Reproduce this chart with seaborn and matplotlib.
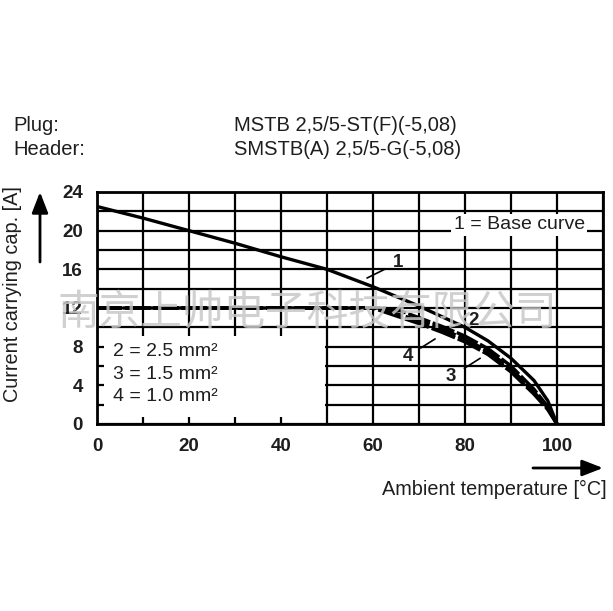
import matplotlib
matplotlib.use("Agg")
import matplotlib.pyplot as plt
import seaborn as sns
import numpy as np
import pandas as pd
from matplotlib.patches import Rectangle, FancyArrowPatch

# ---------------- data ----------------
temp_base = [0, 10, 20, 30, 40, 50, 60, 70, 80, 85, 90, 95, 98, 100]
cap_base = [22.5, 21.3, 20.0, 18.7, 17.3, 16.0, 14.2, 12.2, 10.0, 8.6, 6.8, 4.5, 2.4, 0]

temp_c2 = [0, 62, 66, 70, 75, 80, 85, 90, 95, 98, 100]
cap_c2 = [12, 12, 11.7, 11.0, 10.1, 9.1, 7.8, 6.0, 3.6, 1.8, 0]

temp_c3 = [0, 60, 65, 70, 75, 80, 85, 90, 95, 98, 100]
cap_c3 = [12, 12, 11.2, 10.4, 9.5, 8.5, 7.2, 5.4, 3.1, 1.5, 0]

temp_c4 = [0, 61, 65, 70, 75, 80, 85, 90, 95, 98, 100]
cap_c4 = [12, 12, 11.4, 10.7, 9.8, 8.8, 7.5, 5.7, 3.3, 1.6, 0]

x_ticks = [0, 10, 20, 30, 40, 50, 60, 70, 80, 90, 100, 110]
x_labels = ["0", "", "20", "", "40", "", "60", "", "80", "", "100", ""]
y_ticks = [0, 2, 4, 6, 8, 10, 12, 14, 16, 18, 20, 22, 24]
y_labels = ["0", "", "4", "", "8", "", "12", "", "16", "", "20", "", "24"]

legend_lines = ["2 = 2.5 mm²", "3 = 1.5 mm²", "4 = 1.0 mm²"]
header_left = ["Plug:", "Header:"]
header_right = ["MSTB 2,5/5-ST(F)(-5,08)", "SMSTB(A) 2,5/5-G(-5,08)"]
watermark = "南京上帅电子科技有限公司"

# ---------------- style ----------------
sns.set_theme(style="white")
plt.rcParams["font.family"] = ["Liberation Sans", "Noto Sans CJK SC", "DejaVu Sans"]

W, H = 613, 611
TXT = "#1e1e1e"
fig = plt.figure(figsize=(W / 100, H / 100), dpi=100)
ax = fig.add_axes([97 / W, 1 - 424 / H, 506 / W, 232 / H])

def long_df(t, c, name):
    return pd.DataFrame({"temp": t, "cap": c, "curve": name})

df_base = long_df(temp_base, cap_base, "1")
df2 = long_df(temp_c2, cap_c2, "2")
df3 = long_df(temp_c3, cap_c3, "3")
df4 = long_df(temp_c4, cap_c4, "4")

sns.lineplot(data=df4, x="temp", y="cap", ax=ax, color="black", lw=2.6,
             sort=False, zorder=4)
sns.lineplot(data=df3, x="temp", y="cap", ax=ax, color="black", lw=2.6,
             sort=False, zorder=4)
sns.lineplot(data=df2, x="temp", y="cap", ax=ax, color="black", lw=2.4,
             sort=False, zorder=4)
for ln in ax.lines:
    ln.set_dashes((7, 0.8))
    ln.set_solid_capstyle("butt")
sns.lineplot(data=df_base, x="temp", y="cap", ax=ax, color="black", lw=2.4,
             sort=False, zorder=5)

ax.set_xlim(0, 110)
ax.set_ylim(0, 24)
ax.set_xticks(x_ticks)
ax.set_xticklabels(x_labels)
ax.set_yticks(y_ticks)
ax.set_yticklabels(y_labels)
ax.set_xlabel("")
ax.set_ylabel("")

ax.grid(True, color="black", lw=1.6)
ax.set_axisbelow(True)
for s in ax.spines.values():
    s.set_visible(True)
    s.set_color("black")
    s.set_linewidth(2.0)

ax.tick_params(axis="both", direction="inout", length=10, width=1.6,
               color="black", labelsize=13.5, pad=5)
for lab in ax.get_xticklabels() + ax.get_yticklabels():
    lab.set_fontweight("bold")
    lab.set_color(TXT)

# white area in lower-left without grid
ax.add_patch(Rectangle((1.6, 0.75), 48.0, 8.4, facecolor="white",
                       edgecolor="none", zorder=1))

# legend texts
for i, t in enumerate(legend_lines):
    ax.text(3.5, 7.45 - i * 2.3, t, fontsize=14, va="center", ha="left",
            color=TXT, zorder=6)

# base curve label
ax.text(77.5, 20.6, "1 = Base curve", fontsize=14, va="center", ha="left",
        color=TXT, zorder=6,
        bbox=dict(facecolor="white", edgecolor="none", pad=1.5))

# curve labels with leaders
labels = [("1", (58.7, 15.1), (65.5, 16.7)),
          ("2", (78.0, 10.3), (81.8, 10.75)),
          ("4", (73.5, 8.8), (67.5, 7.0)),
          ("3", (83.3, 6.8), (77.0, 4.9))]
for txt, tip, pos in labels:
    ax.annotate(txt, xy=tip, xytext=pos, fontsize=13.5, fontweight="bold",
                color=TXT, ha="center", va="center", zorder=7,
                arrowprops=dict(arrowstyle="-", color="black", lw=1.2,
                                shrinkA=4, shrinkB=0))

# header
for i, (l, r) in enumerate(zip(header_left, header_right)):
    yb = 1 - (131 + i * 24) / H
    fig.text(13 / W, yb, l, fontsize=14.5, va="baseline", ha="left", color=TXT)
    fig.text(234 / W, yb, r, fontsize=14.5, va="baseline", ha="left", color=TXT)

# axis labels
fig.text(13 / W, 1 - 294 / H, "Current carrying cap. [A]", rotation=90,
         fontsize=14.3, ha="center", va="center", color=TXT)
fig.text(607 / W, 1 - 495 / H, "Ambient temperature [°C]", fontsize=14.3,
         ha="right", va="baseline", color=TXT)

# arrows
arrow_kw = dict(arrowstyle="-|>,head_length=0.9,head_width=0.35", color="black",
                lw=2.0, shrinkA=0, shrinkB=0)
fig.add_artist(FancyArrowPatch(
    (40 / W, 1 - 262 / H), (40 / W, 1 - 192 / H), transform=fig.transFigure,
    mutation_scale=14, **arrow_kw))
fig.add_artist(FancyArrowPatch(
    (533 / W, 1 - 468 / H), (603 / W, 1 - 468 / H), transform=fig.transFigure,
    mutation_scale=14, **arrow_kw))

# watermark
fig.text(307 / W, 1 - 313 / H, watermark, fontsize=30,
         family=["Noto Sans CJK SC", "DejaVu Sans"], color="#c8c8c8",
         alpha=0.85, ha="center", va="center", zorder=20)

fig.savefig("out.png", dpi=100, facecolor="white")
